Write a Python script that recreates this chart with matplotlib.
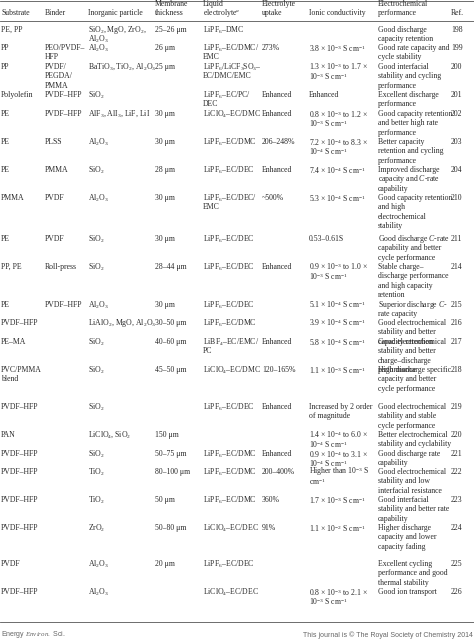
import matplotlib
matplotlib.use('Agg')
import matplotlib.pyplot as plt

plt.rcParams['font.family'] = ['Liberation Serif', 'DejaVu Serif']
plt.rcParams['mathtext.fontset'] = 'custom'
plt.rcParams['mathtext.rm'] = 'Liberation Serif'
plt.rcParams['mathtext.it'] = 'Liberation Serif:italic'

headers = ['Substrate', 'Binder', 'Inorganic particle', 'Membrane\nthickness',
           'Liquid\nelectrolyte$^a$', 'Electrolyte\nuptake', 'Ionic conductivity',
           'Electrochemical\nperformance', 'Ref.']

substrates = ['PE, PP', 'PP', 'PP', 'Polyolefin', 'PE', 'PE', 'PE', 'PMMA', 'PE', 'PP, PE', 'PE',
              'PVDF–HFP', 'PE–MA', 'PVC/PMMA\nblend', 'PVDF–HFP', 'PAN', 'PVDF–HFP', 'PVDF–HFP',
              'PVDF–HFP', 'PVDF–HFP', 'PVDF', 'PVDF–HFP']
binders = ['', 'PEO/PVDF–\nHFP', 'PVDF/\nPEGDA/\nPMMA', 'PVDF–HFP', 'PVDF–HFP', 'PLSS', 'PMMA', 'PVDF',
           'PVDF', 'Roll-press', 'PVDF–HFP', '', '', '', '', '', '', '', '', '', '', '']
particles = ['SiO$_2$, MgO, ZrO$_2$,\nAl$_2$O$_3$', 'Al$_2$O$_3$', 'BaTiO$_3$, TiO$_2$, Al$_2$O$_3$',
             'SiO$_2$', 'AlF$_3$, AlI$_3$, LiF, LiI', 'Al$_2$O$_3$', 'SiO$_2$', 'Al$_2$O$_3$', 'SiO$_2$',
             'SiO$_2$', 'Al$_2$O$_3$', 'LiAlO$_2$, MgO, Al$_2$O$_3$', 'SiO$_2$', 'SiO$_2$', 'SiO$_2$',
             'LiClO$_4$, SiO$_2$', 'SiO$_2$', 'TiO$_2$', 'TiO$_2$', 'ZrO$_2$', 'Al$_2$O$_3$', 'Al$_2$O$_3$']
thickness = ['25–26 μm', '26 μm', '25 μm', '', '30 μm', '30 μm', '28 μm', '30 μm', '30 μm', '28–44 μm',
             '30 μm', '30–50 μm', '40–60 μm', '45–50 μm', '', '150 μm', '50–75 μm', '80–100 μm',
             '50 μm', '50–80 μm', '20 μm', '']
electrolytes = ['LiPF$_6$–DMC', 'LiPF$_6$–EC/DMC/\nEMC', 'LiPF$_6$/LiCF$_3$SO$_3$–\nEC/DMC/EMC',
                'LiPF$_6$–EC/PC/\nDEC', 'LiClO$_4$–EC/DMC', 'LiPF$_6$–EC/DMC', 'LiPF$_6$–EC/DEC',
                'LiPF$_6$–EC/DEC/\nEMC', 'LiPF$_6$–EC/DEC', 'LiPF$_6$–EC/DEC', 'LiPF$_6$–EC/DEC',
                'LiPF$_6$–EC/DMC', 'LiBF$_4$–EC/EMC/\nPC', 'LiClO$_4$–EC/DMC', 'LiPF$_6$–EC/DEC', '',
                'LiPF$_6$–EC/DMC', 'LiPF$_6$–EC/DMC', 'LiPF$_6$–EC/DMC', 'LiClO$_4$–EC/DEC',
                'LiPF$_6$–EC/DEC', 'LiClO$_4$–EC/DEC']
uptake = ['', '273%', '', 'Enhanced', 'Enhanced', '206–248%', 'Enhanced', '~500%', '', 'Enhanced', '',
          '', 'Enhanced', '120–165%', 'Enhanced', '', 'Enhanced', '200–400%', '360%', '91%', '', '']
conductivity = ['', '3.8 × 10$^{-3}$ S cm$^{-1}$', '1.3 × 10$^{-3}$ to 1.7 ×\n10$^{-3}$ S cm$^{-1}$',
                'Enhanced', '0.8 × 10$^{-3}$ to 1.2 ×\n10$^{-3}$ S cm$^{-1}$',
                '7.2 × 10$^{-4}$ to 8.3 ×\n10$^{-4}$ S cm$^{-1}$', '7.4 × 10$^{-4}$ S cm$^{-1}$',
                '5.3 × 10$^{-4}$ S cm$^{-1}$', '0.53–0.61S', '0.9 × 10$^{-3}$ to 1.0 ×\n10$^{-3}$ S cm$^{-1}$',
                '5.1 × 10$^{-4}$ S cm$^{-1}$', '3.9 × 10$^{-4}$ S cm$^{-1}$', '5.8 × 10$^{-4}$ S cm$^{-1}$',
                '1.1 × 10$^{-3}$ S cm$^{-1}$', 'Increased by 2 order\nof magnitude',
                '1.4 × 10$^{-4}$ to 6.0 ×\n10$^{-4}$ S cm$^{-1}$', '0.9 × 10$^{-4}$ to 3.1 ×\n10$^{-4}$ S cm$^{-1}$',
                'Higher than 10$^{-3}$ S\ncm$^{-1}$', '1.7 × 10$^{-3}$ S cm$^{-1}$', '1.1 × 10$^{-2}$ S cm$^{-1}$',
                '', '0.8 × 10$^{-3}$ to 2.1 ×\n10$^{-3}$ S cm$^{-1}$']
performance = ['Good discharge\ncapacity retention', 'Good rate capacity and\ncycle stability',
               'Good interfacial\nstability and cycling\nperformance', 'Excellent discharge\nperformance',
               'Good capacity retention\nand better high rate\nperformance',
               'Better capacity\nretention and cycling\nperformance',
               'Improved discharge\ncapacity and $\\it{C}$-rate\ncapability',
               'Good capacity retention\nand high\nelectrochemical\nstability',
               'Good discharge $\\it{C}$-rate\ncapability and better\ncycle performance',
               'Stable charge–\ndischarge performance\nand high capacity\nretention',
               'Superior discharge $\\it{C}$-\nrate capacity',
               'Good electrochemical\nstability and better\ncapacity retention',
               'Good electrochemical\nstability and better\ncharge–discharge\nperformance',
               'High discharge specific\ncapacity and better\ncycle performance',
               'Good electrochemical\nstability and stable\ncycle performance',
               'Better electrochemical\nstability and cyclability',
               'Good discharge rate\ncapability',
               'Good electrochemical\nstability and low\ninterfacial resistance',
               'Good interfacial\nstability and better rate\ncapability',
               'Higher discharge\ncapacity and lower\ncapacity fading',
               'Excellent cycling\nperformance and good\nthermal stability',
               'Good ion transport']
refs = ['198', '199', '200', '201', '202', '203', '204', '210', '211', '214', '215', '216', '217', '218',
        '219', '220', '221', '222', '223', '224', '225', '226']

# layout (pixels)
col_x = [1, 45, 88, 155, 203, 262, 309, 378, 451]
row_y = [30, 48, 67, 95, 114, 142, 170, 198, 239, 267, 305, 323, 342, 370, 407, 435, 454, 472, 500, 528,
         564, 592]
line_h = 9.3
fs = 5.6
col = '#2a2a2a'

fig = plt.figure(figsize=(4.74, 6.42), dpi=100)
ax = fig.add_axes([0, 0, 1, 1])
ax.set_xlim(0, 474)
ax.set_ylim(642, 0)
ax.axis('off')

ax.axhline(0.8, color='#555', lw=0.6)
ax.axhline(21, color='#555', lw=0.6)
ax.axhline(622, color='#555', lw=0.6)


def put(x, y, s):
    for k, line in enumerate(s.split('\n')):
        ax.text(x, y + k * line_h, line, fontsize=fs, color=col, va='center', ha='left')


for x, h in zip(col_x, headers):
    lines = h.split('\n')
    put(x, 13 - (len(lines) - 1) * line_h, h)

cols = [substrates, binders, particles, thickness, electrolytes, uptake, conductivity, performance, refs]
for i, y in enumerate(row_y):
    for x, c in zip(col_x, cols):
        if c[i]:
            put(x, y, c[i])

ax.text(1, 635, 'Energy $\\it{Environ.}$ Sci.', fontsize=5, color='#666', family='Liberation Sans', va='center')
ax.text(473, 635, 'This journal is © The Royal Society of Chemistry 2014', fontsize=5, color='#666',
        family='Liberation Sans', va='center', ha='right')

fig.savefig('out.png', dpi=100)
